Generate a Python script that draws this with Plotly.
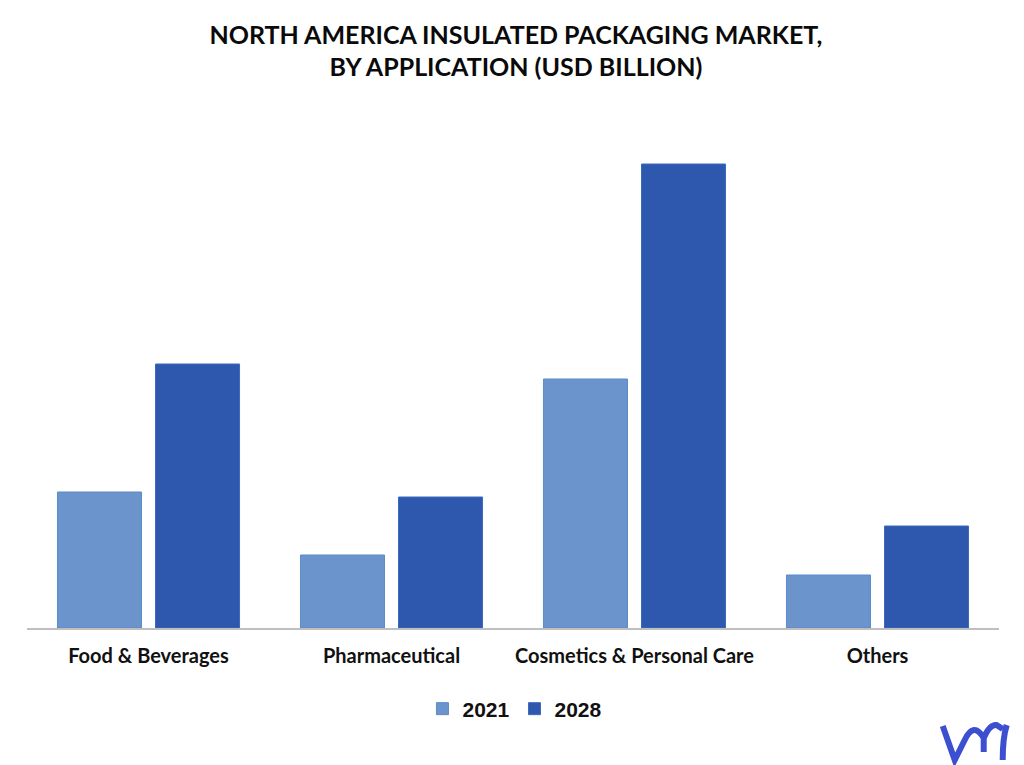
import plotly.graph_objects as go

categories = ["Food &amp; Beverages", "Pharmaceutical", "Cosmetics &amp; Personal Care", "Others"]
values_2021 = [1.36, 0.73, 2.49, 0.53]
values_2028 = [2.64, 1.31, 4.64, 1.02]

OFF = 8  # page body margin
W, H = 1024 - OFF, 765 - OFF
L, R, T, B = 26.8, 999.3, 100, 628


def px(x):
    return (x - L) / (R - L)


def py(y):
    return (B - y) / (B - T)


fig = go.Figure()
fig.add_bar(name="2021", x=categories, y=values_2021,
            marker=dict(color="#6A94CB", line=dict(color="#5B8BC9", width=1)))
fig.add_bar(name="2028", x=categories, y=values_2028,
            marker=dict(color="#2E58AD", line=dict(color="#3A6AC0", width=1)))

pts = [(943, 726), (955, 760), (965, 740), (974, 721), (984, 738), (984, 752),
       (984, 738), (990, 724), (997, 725), (1003, 729), (1003, 760),
       (1003, 738), (1007, 725), (1018, 727)]
logo = "M {} {} L {} {} L {} {} Q {} {} {} {} L {} {} M {} {} Q {} {} {} {} L {} {} M {} {} Q {} {} {} {}".format(
    *[v for p in pts for v in (px(p[0]), py(p[1]))])

fig.update_layout(
    width=W, height=H, autosize=False,
    margin=dict(l=L - OFF, r=1024 - R, t=T - OFF, b=765 - B, pad=0),
    paper_bgcolor="white", plot_bgcolor="white",
    barmode="group", bargap=0.193, bargroupgap=0.143,
    title=dict(text="NORTH AMERICA INSULATED PACKAGING MARKET,<br>BY APPLICATION (USD BILLION)",
               x=0.5, xanchor="center", y=0.953, yanchor="top",
               font=dict(family="Lato", size=25, color="#0a0a0a", weight=700)),
    xaxis=dict(showline=True, linecolor="#BFBFBF", linewidth=2, ticks="", showgrid=False,
               ticklabelstandoff=9,
               tickfont=dict(family="Lato", size=20, color="#111111", weight=700)),
    yaxis=dict(visible=False, range=[0, 5.28], showgrid=False, zeroline=False),
    legend=dict(orientation="h", x=px(515), xanchor="center", y=py(709), yanchor="middle",
                font=dict(family="Liberation Sans", size=21, color="#111111", weight=700),
                itemwidth=30, traceorder="normal", bgcolor="rgba(0,0,0,0)"),
    shapes=[dict(type="path", xref="paper", yref="paper", path=logo, layer="above",
                 line=dict(color="#3B4FD0", width=6))],
)
fig.write_html("out.html")
